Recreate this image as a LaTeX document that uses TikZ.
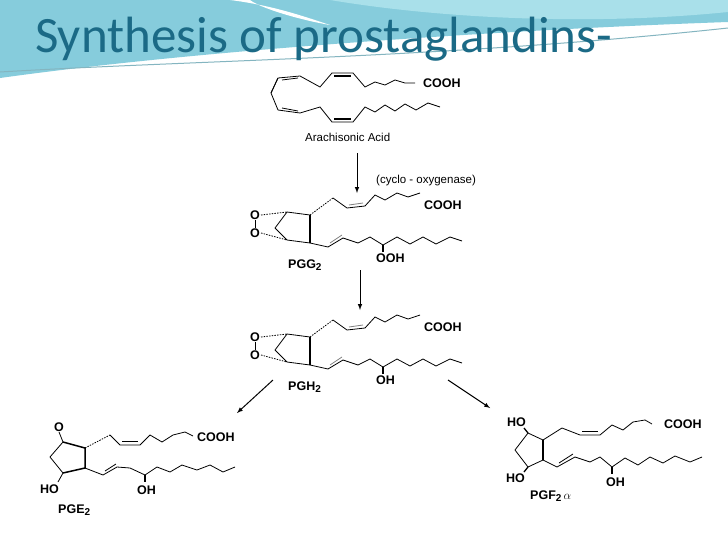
\documentclass[tikz,border=0pt]{standalone}
\usepackage{fontspec}
\setmainfont{Liberation Sans}
\newfontfamily\titlefont{Carlito}
\definecolor{hdA}{HTML}{86CCDC}
\definecolor{hdB}{HTML}{A9E0EA}
\definecolor{ttl}{HTML}{1B6A86}
\begin{document}
\begin{tikzpicture}[x=1pt,y=-1pt,
  bond/.style={line width=0.8pt,line join=round},
  dbond/.style={line width=1.7pt},
  dsh/.style={line width=0.8pt,dash pattern=on 1.5pt off 1.2pt},
  lbl/.style={font=\fontsize{12.5}{13}\selectfont\bfseries,inner sep=0pt,anchor=west},
  small/.style={font=\fontsize{11.5}{12}\selectfont,inner sep=0pt,anchor=west},
  arr/.style={line width=1pt,-latex}]
\useasboundingbox (0,0) rectangle (728,546);
\fill[white] (0,0) rectangle (728,546);
% header background
\fill[hdA] (0,0) -- (728,0) -- (728,22) .. controls (500,30) and (200,50) .. (0,78) -- cycle;
\fill[hdB] (330,0) -- (728,0) -- (728,12) .. controls (600,25) and (450,20) .. (330,0) -- cycle;
\fill[white] (230,0) .. controls (270,5) and (300,15) .. (330,25) .. controls (300,20) and (260,8) .. (250,0) -- cycle;
\draw[hdA!70!gray,line width=1pt] (0,72) .. controls (200,60) and (450,58) .. (728,28);
\node[font=\titlefont\fontsize{51}{51}\selectfont,text=ttl,anchor=base west,inner sep=0pt] (title) at (35,52) {Synthesis of prostaglandins-};
% Arachidonic acid
\draw[bond] (278,78)--(271,93)--(278,110)--(300,113)--(320,107)--(332,122)--(353,122)--(365,107)--(375,112)--(385,105)--(395,111)--(405,104)--(416,110)--(428,103)--(440,107);
\draw[bond] (271,93)--(278,78)--(300,76)--(320,87)--(332,73)--(353,73)--(365,87)--(375,82)--(385,85)--(395,80)--(405,83)--(415,83);
\draw[dbond] (334,76)--(351,76) (334,119)--(351,119);
\draw[bond] (282,80)--(298,78) (282,108)--(298,111);
\node[lbl] (c1) at (423,83) {COOH};
\node[small] (aa) at (305,137) {Arachisonic Acid};
\coordinate (a1s) at (357,153); \coordinate (a1e) at (357,193);
\draw[arr] (a1s)--(a1e);
\node[small] (cox) at (376,181) {(cyclo - oxygenase)};
% PGG2 and PGH2
\foreach \dy/\lab/\oo in {0/PGG/OOH,122/PGH/OH}{
\begin{scope}[yshift=-\dy]
\node[lbl] at (250,215) {O};
\node[lbl] at (250,233) {O};
\draw[bond] (255.5,220)--(255.5,228);
\draw[dsh] (261,215)--(287,212) (261,233)--(287,240);
\draw[bond] (287,212)--(275,228)--(287,240)--(310,243) (310,215)--(287,212);
\draw[line width=1.5pt] (310,215)--(310,243);
\draw[dsh] (310,215)--(333,198);
\draw[bond] (333,198)--(347,208)--(365,206)--(375,195)--(385,200)--(397,193)--(408,197)--(420,193);
\draw[bond,gray] (349,205)--(363,203);
\node[lbl] at (424,205) {COOH};
\draw[bond] (310,243)--(328,247)--(343,238)--(358,243)--(370,237)--(383,245)--(397,237)--(410,244)--(423,237)--(436,244)--(450,237)--(462,241);
\draw[bond,gray] (330,243)--(342,235);
\draw[line width=1.3pt] (383,245)--(383,252);
\node[lbl] at (376,258) {\oo};
\node[lbl] at (288,265) {\lab\raisebox{-2.5pt}{\fontsize{10}{10}\selectfont 2}};
\end{scope}}
\coordinate (a2s) at (360,270); \coordinate (a2e) at (360,310);
\draw[arr] (a2s)--(a2e);
\coordinate (a3s) at (273,380); \coordinate (a3e) at (237,413);
\draw[arr] (a3s)--(a3e);
\coordinate (a4s) at (448,380); \coordinate (a4e) at (490,408);
\draw[arr] (a4s)--(a4e);
% PGE2
\node[lbl] at (54,427) {O};
\draw[bond] (59,432)--(63,442);
\draw[bond] (63,442)--(50,457)--(63,473);
\draw[line width=1.5pt] (63,442)--(85,448)--(85,468)--(63,473);
\draw[dsh] (85,448)--(110,435);
\draw[bond] (110,435)--(120,445)--(140,445)--(150,435)--(162,442)--(173,435)--(185,432)--(193,436);
\draw[bond] (122,441)--(138,441);
\node[lbl] at (197,437) {COOH};
\draw[bond] (85,468)--(103,475)--(117,467)--(130,468)--(145,475)--(157,467)--(170,472)--(182,465)--(197,470)--(210,465)--(223,472)--(235,467);
\draw[bond] (105,471)--(116,464);
\draw[line width=1.3pt] (145,475)--(145,482);
\node[lbl] at (40,489) {HO};
\draw[bond] (63,473)--(58,482);
\node[lbl] at (137,490) {OH};
\node[lbl] at (58,510) {PGE\raisebox{-2.5pt}{\fontsize{10}{10}\selectfont 2}};
% PGF2a
\node[lbl] at (507,422) {HO};
\draw[line width=1.3pt] (528,433)--(524,428);
\draw[bond] (528,433)--(515,450)--(528,467);
\draw[bond] (528,433)--(543,440) (543,460)--(528,467);
\draw[line width=1.5pt] (543,440)--(543,460);
\draw[bond] (543,440)--(562,428)--(580,435)--(600,435)--(612,425)--(623,430)--(633,422)--(645,420)--(652,424);
\draw[bond] (582,431)--(598,431);
\node[lbl] at (664,424) {COOH};
\draw[bond] (543,460)--(557,467)--(575,457)--(590,462)--(600,457)--(612,467)--(625,458)--(638,465)--(650,457)--(663,463)--(675,456)--(690,462)--(702,457);
\draw[bond] (559,463)--(573,454);
\draw[line width=1.3pt] (612,467)--(612,474);
\draw[line width=1.3pt] (528,467)--(524,472);
\node[lbl] at (506,478) {HO};
\node[lbl] at (606,482) {OH};
\node[lbl] at (530,496) {PGF\raisebox{-2.5pt}{\fontsize{10}{10}\selectfont 2}\,{\fontsize{12}{12}\selectfont$\alpha$}};
\end{tikzpicture}
\end{document}
